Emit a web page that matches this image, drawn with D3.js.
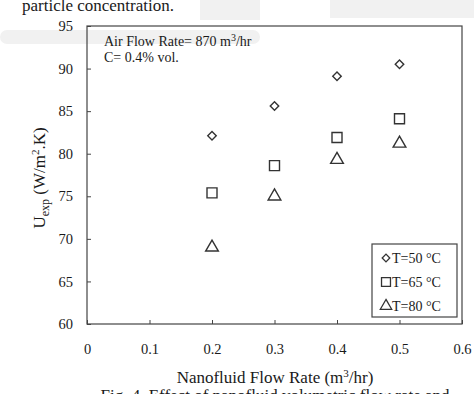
<!DOCTYPE html>
<html><head><meta charset="utf-8">
<script src="https://cdn.jsdelivr.net/npm/d3@7"></script>
<style>body{margin:0;background:#fff}svg{display:block}svg text{font-family:"Liberation Serif","Times New Roman",serif !important;fill:#1a1a1a}</style>
</head><body>
<script>
const flowRates = [0.2, 0.3, 0.4, 0.5];
const seriesNames = ["T=50 °C", "T=65 °C", "T=80 °C"];
const dt50 = [82.1, 85.6, 89.1, 90.5];
const dt65 = [75.4, 78.6, 81.9, 84.1];
const dt80 = [69.0, 75.0, 79.3, 81.2];
const xTicks = [0, 0.1, 0.2, 0.3, 0.4, 0.5, 0.6];
const yTicks = [60, 65, 70, 75, 80, 85, 90, 95];

const W = 474, H = 394;
const svg = d3.select("body").append("svg").attr("width", W).attr("height", H);

// faint watermark
const wm = svg.append("g").attr("fill", "#f1f1f1");
wm.append("rect").attr("x", 0).attr("y", 30).attr("width", 260).attr("height", 14).attr("rx", 7);
wm.append("rect").attr("x", 200).attr("y", 0).attr("width", 60).attr("height", 20);
wm.append("rect").attr("x", 330).attr("y", 0).attr("width", 144).attr("height", 18);

const x = d3.scaleLinear().domain([0, 0.6]).range([87, 462]);
const y = d3.scaleLinear().domain([60, 95]).range([324, 26]);

// symbol generators: diamond = rotated small square
const shapes = [
  {type: d3.symbolSquare, size: 36, rot: 45},
  {type: d3.symbolSquare, size: 100, rot: 0},
  {type: d3.symbolTriangle, size: 70, rot: 0}
];

svg.append("text").attr("x", 22).attr("y", 11).attr("font-size", 17).text("particle concentration.");

const g = svg.append("g");
g.append("rect").attr("x", 87).attr("y", 26).attr("width", 375).attr("height", 298)
  .attr("fill", "none").attr("stroke", "#444").attr("stroke-width", 1.2);

const xAxis = g.append("g").attr("transform", "translate(0,324)")
  .call(d3.axisBottom(x).tickValues(xTicks).tickFormat(d3.format("")).tickSizeInner(-4).tickSizeOuter(0).tickPadding(20));
xAxis.select(".domain").remove();
xAxis.selectAll("line").attr("stroke", "#444");
xAxis.selectAll("text").attr("font-size", 14.5);

const yAxis = g.append("g").attr("transform", "translate(87,0)")
  .call(d3.axisLeft(y).tickValues(yTicks).tickSizeInner(-4).tickSizeOuter(0).tickPadding(14));
yAxis.select(".domain").remove();
yAxis.selectAll("line").attr("stroke", "#444");
yAxis.selectAll("text").attr("font-size", 14.5);

svg.append("text").attr("x", 275).attr("y", 383).attr("text-anchor", "middle").attr("font-size", 17)
  .html('Nanofluid Flow Rate (m<tspan dy="-6" font-size="11">3</tspan><tspan dy="6">/hr)</tspan>');

const yl = svg.append("text").attr("transform", "translate(45,178) rotate(-90)").attr("text-anchor", "middle").attr("font-size", 17);
yl.html('U<tspan dy="4" font-size="12">exp</tspan><tspan dy="-4"> (W/m</tspan><tspan dy="-6" font-size="11">2</tspan><tspan dy="6">.K)</tspan>');

svg.append("text").attr("x", 104).attr("y", 46).attr("font-size", 14)
  .html('Air Flow Rate= 870 m<tspan dy="-5" font-size="10">3</tspan><tspan dy="5">/hr</tspan>');
svg.append("text").attr("x", 104).attr("y", 62).attr("font-size", 14).text("C= 0.4% vol.");

const data = [dt50, dt65, dt80];
data.forEach((vals, i) => {
  const s = shapes[i];
  g.selectAll(null).data(vals).enter().append("path")
    .attr("d", d3.symbol().type(s.type).size(s.size))
    .attr("transform", (d, j) => `translate(${x(flowRates[j])},${y(d)}) rotate(${s.rot})`)
    .attr("fill", "none").attr("stroke", "#333").attr("stroke-width", 1.4);
});

// legend
const lg = svg.append("g");
lg.append("rect").attr("x", 372).attr("y", 244).attr("width", 85).attr("height", 73)
  .attr("fill", "#fff").attr("stroke", "#444").attr("stroke-width", 1.2);
seriesNames.forEach((n, i) => {
  const cy = 258 + i * 24;
  const s = shapes[i];
  lg.append("path").attr("d", d3.symbol().type(s.type).size(s.size * 0.8)())
    .attr("transform", `translate(386,${cy}) rotate(${s.rot})`).attr("fill", "none").attr("stroke", "#333").attr("stroke-width", 1.3);
  lg.append("text").attr("x", 392).attr("y", cy + 5).attr("font-size", 14).text(n);
});

svg.append("text").attr("x", 275).attr("y", 401).attr("text-anchor", "middle").attr("font-size", 17)
  .text("Fig. 4. Effect of nanofluid volumetric flow rate and");
</script>
</body></html>
